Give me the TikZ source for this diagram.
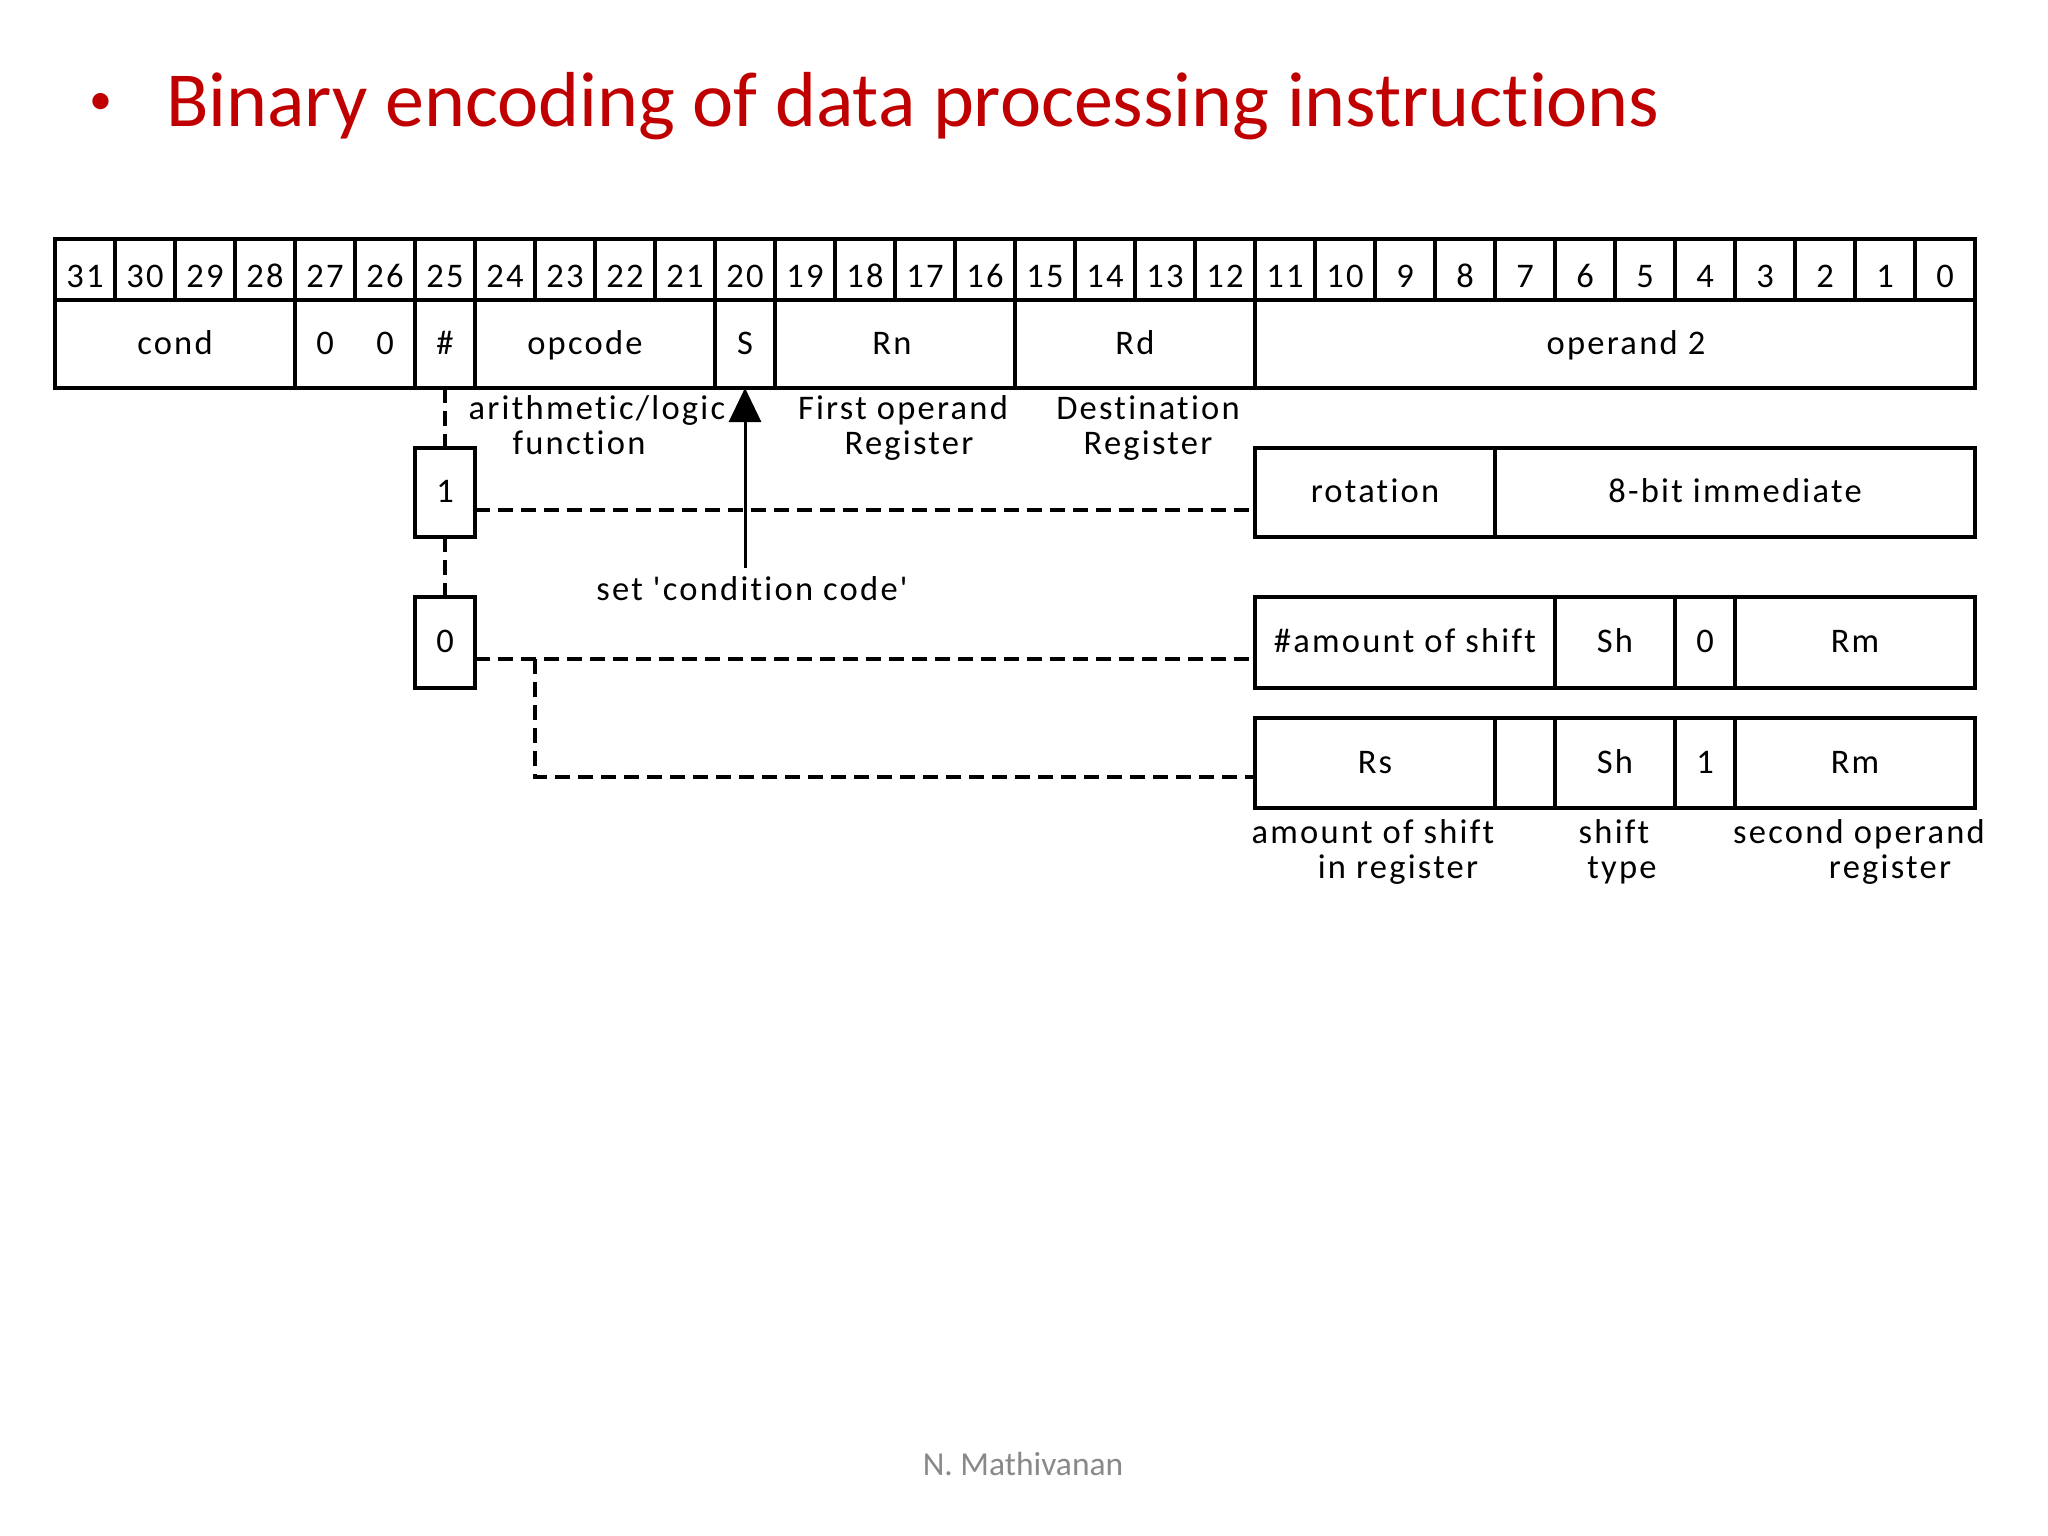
\documentclass[tikz,border=0pt]{standalone}
\usepackage{fontspec}
\setmainfont[Ligatures=NoCommon]{Carlito}
\newfontfamily\lblfamily[LetterSpace=6.5,Ligatures=NoCommon]{Carlito}
\usetikzlibrary{arrows.meta}
\definecolor{titlered}{RGB}{192,0,0}
\definecolor{footgray}{RGB}{137,137,137}
\begin{document}
\begin{tikzpicture}[x=1pt,y=-1pt,
  lbl/.style={font=\lblfamily\fontsize{34.5}{30}\selectfont},
  box/.style={draw, line width=3.5pt, inner sep=0pt, outer sep=0pt, lbl, text height=26pt, text depth=6pt},
  bitcell/.style={box, minimum width=60pt, minimum height=61pt, text height=40pt, text depth=5pt},
  fieldcell/.style={box, minimum height=88pt},
  rowa/.style={box, minimum height=89pt},
  rowb/.style={box, minimum height=91pt},
  rowc/.style={box, minimum height=90pt},
  freetext/.style={lbl, anchor=base, inner sep=0pt, align=center},
  toptext/.style={freetext, font=\lblfamily\fontsize{34.5}{34.5}\selectfont},
  lowtext/.style={freetext, font=\lblfamily\fontsize{34.5}{35}\selectfont},
  dashline/.style={line width=3.2pt, dash pattern=on 15pt off 8pt},
  arrowline/.style={line width=3pt, -{Triangle[length=34pt,width=32pt]}}
]
\useasboundingbox (0,0) rectangle (2048,1536);
\fill[white] (0,0) rectangle (2048,1536);

% title
\node[inner sep=0pt, font=\fontsize{46}{50}\selectfont, text=titlered] (bullet) at (101,104) {•};
\node[anchor=base west, inner sep=0pt, font=\fontsize{78}{90}\selectfont, text=titlered] (title) at (166,127) {Binary encoding of data processing instructions};

% bit numbers
\foreach \k in {0,...,31}{
  \pgfmathtruncatemacro{\b}{31-\k}
  \node[bitcell] (bit\b) at ({85+60*\k},269.5) {\b};
}

% fields
\node[fieldcell, minimum width=240pt] (cond) at (175,344) {cond};
\node[fieldcell, minimum width=120pt] (zz) at (355,344) {};
\node[lbl, anchor=base, inner sep=0pt] (zeroa) at (325,354) {0};
\node[lbl, anchor=base, inner sep=0pt] (zerob) at (385,354) {0};
\node[fieldcell, minimum width=60pt] (hash) at (445,344) {\#};
\node[fieldcell, minimum width=240pt] (opcode) at (595,344) {opcode\rule{20pt}{0pt}};
\node[fieldcell, minimum width=60pt] (S) at (745,344) {S};
\node[fieldcell, minimum width=240pt] (Rn) at (895,344) {Rn\rule{6pt}{0pt}};
\node[fieldcell, minimum width=240pt] (Rd) at (1135,344) {Rd};
\node[fieldcell, minimum width=720pt] (op2) at (1615,344) {\rule{22pt}{0pt}operand 2};

% labels under fields (anchor = baseline of last line)
\node[toptext] (arith) at (597,454) {arithmetic/logic\\function\rule{36pt}{0pt}};
\node[toptext] (firstop) at (903,454) {First operand\\\rule{12pt}{0pt}Register};
\node[toptext] (dest) at (1148,454) {Destination\\Register};
\node[freetext] (setcc) at (752,600) {set 'condition code'};

% I bit boxes
\node[rowa, minimum width=60pt] (b1) at (445,492.5) {1};
\node[rowb, minimum width=60pt] (b0) at (445,642.5) {0};

% operand 2 variants
\node[rowa, minimum width=240pt] (rot) at (1375,492.5) {rotation};
\node[rowa, minimum width=480pt] (imm) at (1735,492.5) {8-bit immediate};

\node[rowb, minimum width=300pt] (amt) at (1405,642.5) {\#amount of shift};
\node[rowb, minimum width=120pt] (shb) at (1615,642.5) {Sh};
\node[rowb, minimum width=60pt] (zb) at (1705,642.5) {0};
\node[rowb, minimum width=240pt] (rmb) at (1855,642.5) {Rm};

\node[rowc, minimum width=240pt] (rs) at (1375,763) {Rs};
\node[rowc, minimum width=60pt] (blank) at (1525,763) {};
\node[rowc, minimum width=120pt] (shc) at (1615,763) {Sh};
\node[rowc, minimum width=60pt] (onec) at (1705,763) {1};
\node[rowc, minimum width=240pt] (rmc) at (1855,763) {Rm};

% labels under third row
\node[lowtext] (amtreg) at (1373,878) {amount of shift\\\rule{50pt}{0pt}in register};
\node[lowtext] (shtype) at (1614,878) {shift\\\rule{16pt}{0pt}type};
\node[lowtext] (secop) at (1859,878) {second operand\\\rule{62pt}{0pt}register};

% dashed connectors
\draw[dashline] (hash.south) -- (b1.north);
\draw[dashline] (b1.south) -- (b0.north);
\draw[dashline] ([yshift=-17.5pt]b1.east) -- ([yshift=-17.5pt]rot.west);
\draw[dashline] ([yshift=-16.5pt]b0.east) -- ([yshift=-16.5pt]amt.west);
\coordinate (split) at (535,659);
\draw[dashline] (split) |- ([yshift=-14pt]rs.west);

% set condition code arrow
\coordinate (ccstart) at (745,568);
\draw[arrowline] (ccstart) -- (S.south);

% footer
\node[anchor=base, inner sep=0pt, font=\fontsize{33.5}{40}\selectfont, text=footgray] (footer) at (1023,1475) {N. Mathivanan};
\end{tikzpicture}
\end{document}
